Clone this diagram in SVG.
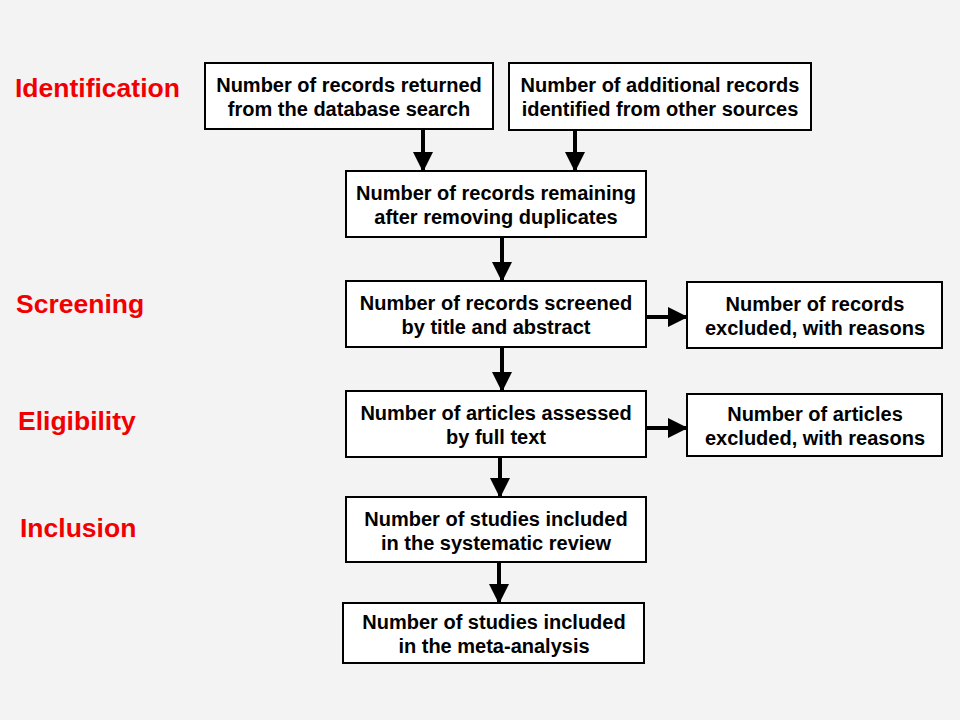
<svg xmlns="http://www.w3.org/2000/svg" width="960" height="720" viewBox="0 0 960 720">
<style>
.b{fill:#fff;stroke:#000;stroke-width:2}
.t{font-family:"Liberation Sans",Arial,sans-serif;font-weight:bold;font-size:20px;text-anchor:middle;fill:#000}
.s{font-family:"Liberation Sans",Arial,sans-serif;font-weight:bold;font-size:26.5px;fill:#f00000}
.c line{stroke:#000;stroke-width:4}
</style>
<defs><marker id="a" viewBox="0 0 10 10" refX="9" refY="5" markerWidth="5" markerHeight="5" orient="auto" markerUnits="strokeWidth"><path d="M0,0L10,5L0,10z" fill="#000"/></marker></defs>
<rect width="960" height="720" fill="#f3f3f3"/>
<text class="s" x="15" y="97">Identification</text>
<text class="s" x="16" y="313">Screening</text>
<text class="s" x="18" y="430">Eligibility</text>
<text class="s" x="20" y="537">Inclusion</text>
<g class="c">
<line x1="423" y1="129" x2="423" y2="170" marker-end="url(#a)"/>
<line x1="575" y1="130" x2="575" y2="170" marker-end="url(#a)"/>
<line x1="502" y1="237" x2="502" y2="280" marker-end="url(#a)"/>
<line x1="502" y1="347" x2="502" y2="390" marker-end="url(#a)"/>
<line x1="500" y1="457" x2="500" y2="496" marker-end="url(#a)"/>
<line x1="499" y1="562" x2="499" y2="602" marker-end="url(#a)"/>
<line x1="646" y1="317" x2="686" y2="317" marker-end="url(#a)"/>
<line x1="646" y1="428" x2="686" y2="428" marker-end="url(#a)"/>
</g>
<g id="n1"><rect class="b" x="205" y="63" width="288" height="66"/><text class="t" x="349" y="92">Number of records returned</text><text class="t" x="349" y="116">from the database search</text></g>
<g id="n2"><rect class="b" x="509" y="63" width="302" height="67"/><text class="t" x="660" y="92">Number of additional records</text><text class="t" x="660" y="116">identified from other sources</text></g>
<g id="n3"><rect class="b" x="346" y="171" width="300" height="66"/><text class="t" x="496" y="200">Number of records remaining</text><text class="t" x="496" y="224">after removing duplicates</text></g>
<g id="n4"><rect class="b" x="346" y="281" width="300" height="66"/><text class="t" x="496" y="310">Number of records screened</text><text class="t" x="496" y="334">by title and abstract</text></g>
<g id="n5"><rect class="b" x="687" y="282" width="255" height="66"/><text class="t" x="815" y="311">Number of records</text><text class="t" x="815" y="335">excluded, with reasons</text></g>
<g id="n6"><rect class="b" x="346" y="391" width="300" height="66"/><text class="t" x="496" y="420">Number of articles assessed</text><text class="t" x="496" y="444">by full text</text></g>
<g id="n7"><rect class="b" x="687" y="394" width="255" height="62"/><text class="t" x="815" y="421">Number of articles</text><text class="t" x="815" y="445">excluded, with reasons</text></g>
<g id="n8"><rect class="b" x="346" y="497" width="300" height="65"/><text class="t" x="496" y="526">Number of studies included</text><text class="t" x="496" y="550">in the systematic review</text></g>
<g id="n9"><rect class="b" x="343" y="603" width="301" height="60"/><text class="t" x="494" y="629">Number of studies included</text><text class="t" x="494" y="653">in the meta-analysis</text></g>
</svg>
